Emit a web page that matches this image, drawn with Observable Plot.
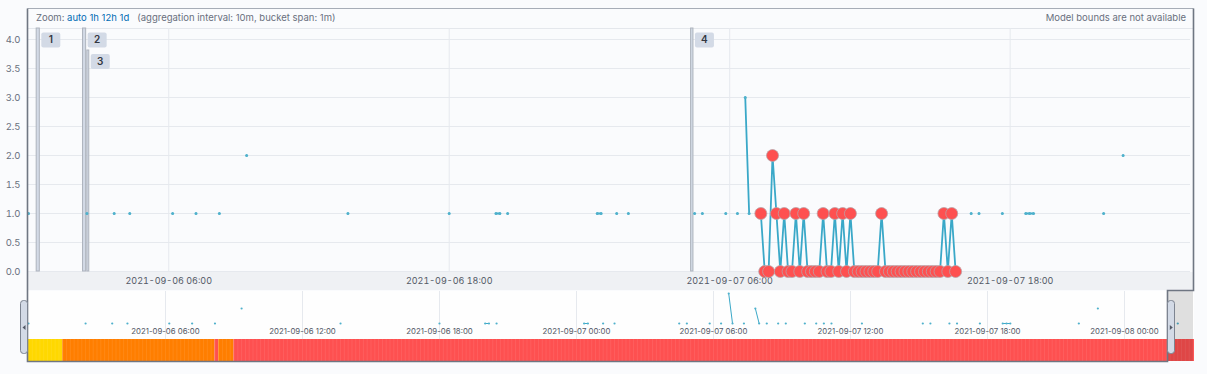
<!DOCTYPE html>
<html><head><meta charset="utf-8">
<script src="https://cdn.jsdelivr.net/npm/d3@7"></script>
<script src="https://cdn.jsdelivr.net/npm/@observablehq/plot@0.6"></script>
<style>
html,body{margin:0;padding:0;background:#fafbfd;}
#wrap{position:relative;width:1207px;height:374px;overflow:hidden;font-family:Inter,"Noto Sans",sans-serif;}
.abs{position:absolute;}
#hdr{left:36px;top:8px;height:20px;line-height:20px;font-size:9.5px;color:#69707d;white-space:pre;}
#hdr a{color:#006bb4;text-decoration:none;}
#hdrR{right:21px;top:8px;height:20px;line-height:20px;font-size:9.5px;color:#69707d;}
svg{display:block;}
</style></head>
<body><div id="wrap">
<div class="abs" style="left:28px;top:28px;width:1165px;height:1px;background:#e4e7ec"></div>
<div class="abs" style="left:28px;top:272px;width:1165px;height:18px;background:#eff1f4"></div>
<div class="abs" style="left:28px;top:291px;width:1166px;height:48px;background:#fefefe"></div>
<div id="hdr" class="abs">Zoom: <a>auto</a> <a>1h</a> <a>12h</a> <a>1d</a>   (aggregation interval: 10m, bucket span: 1m)</div>
<div id="hdrR" class="abs">Model bounds are not available</div>
<div id="main" class="abs" style="left:0;top:28px"></div>
<div id="ov" class="abs" style="left:28px;top:291px"></div>
<div id="sw" class="abs" style="left:28px;top:339px"></div>
<div class="abs" style="left:1168px;top:291px;width:25px;height:70px;background:rgba(0,0,0,0.12)"></div>
<svg class="abs" style="left:0;top:0;pointer-events:none" width="1207" height="374">
  <line x1="27.5" y1="8.5" x2="1193.5" y2="8.5" stroke="#a7adb7" stroke-width="1.2"/>
  <path d="M1193.5,8.5 V290.5 H1167.5 V361.5 H27.5 V8.5" fill="none" stroke="#6f7682" stroke-width="1.6"/>
  <rect x="20.5" y="300.5" width="7" height="53" rx="3" fill="#d3dae6" stroke="#7d8491"/>
  <path d="M25.5,325 L22.5,327.5 L25.5,330 Z" fill="#535966"/>
  <rect x="1167.5" y="300.5" width="7" height="53" rx="3" fill="#d3dae6" stroke="#7d8491"/>
  <path d="M1169.8,325 L1172.8,327.5 L1169.8,330 Z" fill="#535966"/>
</svg>
</div>
<script>
// ---------- data ----------
const valueTimes = [
 "2021-09-06T00:00","2021-09-06T02:30","2021-09-06T03:40","2021-09-06T04:20","2021-09-06T06:10",
 "2021-09-06T07:10","2021-09-06T08:10","2021-09-06T09:20","2021-09-06T13:40","2021-09-06T18:00",
 "2021-09-06T20:00","2021-09-06T20:10","2021-09-06T20:30",
 "2021-09-07T00:20","2021-09-07T00:30","2021-09-07T01:10","2021-09-07T01:40","2021-09-07T04:30",
 "2021-09-07T04:50","2021-09-07T05:50","2021-09-07T06:20","2021-09-07T06:40","2021-09-07T06:50",
 "2021-09-07T16:20","2021-09-07T16:40","2021-09-07T17:40","2021-09-07T18:40","2021-09-07T18:50",
 "2021-09-07T19:00","2021-09-07T22:00","2021-09-07T22:50","2021-09-08T02:20"];
const valueValues = [1,1,1,1,1, 1,1,2,1,1, 1,1,1, 1,1,1,1,1, 1,1,1,3,1, 1,1,1,1,1, 1,1,2,1];

const anomalyTimes = [
 "2021-09-07T07:20","2021-09-07T07:30","2021-09-07T07:40","2021-09-07T07:50","2021-09-07T08:00",
 "2021-09-07T08:10","2021-09-07T08:20","2021-09-07T08:30","2021-09-07T08:40","2021-09-07T08:50",
 "2021-09-07T09:00","2021-09-07T09:10","2021-09-07T09:20","2021-09-07T09:30","2021-09-07T09:40",
 "2021-09-07T09:50","2021-09-07T10:00","2021-09-07T10:10","2021-09-07T10:20","2021-09-07T10:30",
 "2021-09-07T10:40","2021-09-07T10:50","2021-09-07T11:00","2021-09-07T11:10","2021-09-07T11:20",
 "2021-09-07T11:30","2021-09-07T11:40","2021-09-07T11:50","2021-09-07T12:00","2021-09-07T12:10",
 "2021-09-07T12:20","2021-09-07T12:30","2021-09-07T12:40","2021-09-07T12:50","2021-09-07T13:00",
 "2021-09-07T13:10","2021-09-07T13:20","2021-09-07T13:30","2021-09-07T13:40","2021-09-07T13:50",
 "2021-09-07T14:00","2021-09-07T14:10","2021-09-07T14:20","2021-09-07T14:30","2021-09-07T14:40",
 "2021-09-07T14:50","2021-09-07T15:00","2021-09-07T15:10","2021-09-07T15:20","2021-09-07T15:30",
 "2021-09-07T15:40"];
const anomalyValues = [1,0,0,2,1, 0,1,0,0,1, 0,1,0,0,0, 0,1,0,0,1, 0,1,0,1,0, 0,0,0,0,0, 0,1,0,0,0, 0,0,0,0,0, 0,0,0,0,0, 0,0,1,0,1, 0];

const annStart = ["2021-09-06T00:21","2021-09-06T02:20","2021-09-06T02:31","2021-09-07T04:21"];
const annEnd   = ["2021-09-06T00:29","2021-09-06T02:28","2021-09-06T02:36","2021-09-07T04:27"];
const annLabel = ["1","2","3","4"];
const annRow   = [0,0,1,0];

const swimStart = ["2021-09-06T00:00","2021-09-06T01:30","2021-09-06T08:10","2021-09-06T08:20","2021-09-06T09:00"];
const swimEnd   = ["2021-09-06T01:30","2021-09-06T08:10","2021-09-06T08:20","2021-09-06T09:00","2021-09-08T03:10"];
const swimSeverity = ["minor","major","critical","major","critical"];

const yTicks = [0,0.5,1,1.5,2,2.5,3,3.5,4];
const mainTicks = ["2021-09-06T06:00","2021-09-06T18:00","2021-09-07T06:00","2021-09-07T18:00"];
const ovTicks = ["2021-09-06T06:00","2021-09-06T12:00","2021-09-06T18:00","2021-09-07T00:00",
                 "2021-09-07T06:00","2021-09-07T12:00","2021-09-07T18:00","2021-09-08T00:00"];

// ---------- helpers ----------
const T = s => new Date(s + ":00Z");
const fmt = d3.utcFormat("%Y-%m-%d %H:%M");
const mainDomain = [T("2021-09-06T00:00"), T("2021-09-08T01:43")];
const ovDomain = [T("2021-09-06T00:00"), T("2021-09-08T03:04")];

const normal = valueTimes.map((t,i)=>({t:T(t), v:valueValues[i], anomaly:false}));
const anomalies = anomalyTimes.map((t,i)=>({t:T(t), v:anomalyValues[i], anomaly:true}));
const all = normal.concat(anomalies).sort((a,b)=>a.t-b.t);
const STEP = 10*60*1000;
function withGaps(pts){
  const out=[];
  pts.forEach((p,i)=>{
    if(i>0 && p.t - pts[i-1].t > STEP*1.05) out.push({t:new Date((+p.t + +pts[i-1].t)/2), v:NaN});
    out.push(p);
  });
  return out;
}
const inMain = p => p.t >= mainDomain[0] && p.t <= mainDomain[1];
const mainPts = all.filter(inMain);
const mainLine = withGaps(mainPts);
const ovPts = all.filter(p => p.v > 0);
const ovLine = withGaps(ovPts);

const anns = annStart.map((s,i)=>({s:T(s), e:T(annEnd[i]), label:annLabel[i], row:annRow[i]}));
const swim = swimStart.map((s,i)=>({s:T(s), e:T(swimEnd[i]), sev:swimSeverity[i]}));

const labelBox = {draw(ctx){
  const w=9.5,h=7.5,r=2;
  ctx.moveTo(-w+r,-h); ctx.lineTo(w-r,-h); ctx.arcTo(w,-h,w,-h+r,r);
  ctx.lineTo(w,h-r); ctx.arcTo(w,h,w-r,h,r); ctx.lineTo(-w+r,h); ctx.arcTo(-w,h,-w,h-r,r);
  ctx.lineTo(-w,-h+r); ctx.arcTo(-w,-h,-w+r,-h,r); ctx.closePath();
}};

const LINE = "#3aa8c8", DOT = "#4fb1cc";
const GRID = "#e6e9ee";

// ---------- main chart ----------
const main = Plot.plot({
  width: 1194, height: 262,
  marginLeft: 28, marginRight: 4, marginTop: 0, marginBottom: 19,
  style: {fontFamily: "Inter, sans-serif", fontSize: "9px", background: "transparent", overflow: "visible"},
  x: {type: "utc", domain: mainDomain, label: null},
  y: {domain: [0, 4], insetTop: 11, label: null},
  marks: [
    Plot.gridY(yTicks, {stroke: GRID, strokeOpacity: 1, strokeWidth: 1.2}),
    Plot.gridX(mainTicks.map(T), {stroke: GRID, strokeOpacity: 1}),
    Plot.axisY(yTicks, {tickSize: 0, tickPadding: 8, tickFormat: d => d.toFixed(1), color: "#69707d", fontSize: 9.5, label: null}),
    Plot.axisX(mainTicks.map(T), {tickSize: 0, tickPadding: 6, tickFormat: fmt, color: "#535966", fontSize: 9, label: null}),
    Plot.rect(anns.filter(a=>a.row===0), {x1: "s", x2: "e", fill: "#d3dae6", stroke: "#adb3bd", strokeWidth: 1}),
    Plot.rect(anns.filter(a=>a.row===1), {x1: "s", x2: "e", insetTop: 22, fill: "#d3dae6", stroke: "#adb3bd", strokeWidth: 1}),
    Plot.line(mainLine, {x: "t", y: "v", stroke: LINE, strokeWidth: 1.8}),
    Plot.dot(mainPts.filter(p=>!p.anomaly), {x: "t", y: "v", r: 1.5, fill: DOT}),
    Plot.dot(anomalies, {x: "t", y: "v", r: 6, fill: "#fe5050", stroke: "#b8a3a8", strokeWidth: 0.8}),
    Plot.dot(anns.filter(a=>a.row===0), {x: "e", frameAnchor: "top", dx: 11, dy: 11.5, symbol: labelBox, r: 5, fill: "#d3dae6", stroke: "none"}),
    Plot.dot(anns.filter(a=>a.row===1), {x: "e", frameAnchor: "top", dx: 11, dy: 33, symbol: labelBox, r: 5, fill: "#d3dae6", stroke: "none"}),
    Plot.text(anns.filter(a=>a.row===0), {x: "e", text: "label", frameAnchor: "top", dx: 11, dy: 11.5, lineAnchor: "middle", fontSize: 10, fontWeight: 600, fill: "#343741"}),
    Plot.text(anns.filter(a=>a.row===1), {x: "e", text: "label", frameAnchor: "top", dx: 11, dy: 33, lineAnchor: "middle", fontSize: 10, fontWeight: 600, fill: "#343741"})
  ]
});
document.getElementById("main").appendChild(main);

// ---------- overview ----------
const ov = Plot.plot({
  width: 1166, height: 71,
  marginLeft: 0, marginRight: 0, marginTop: 2, marginBottom: 24,
  style: {fontFamily: "Inter, sans-serif", fontSize: "8px", background: "transparent", overflow: "visible"},
  x: {type: "utc", domain: ovDomain, axis: null},
  y: {domain: [0, 3], axis: null},
  marks: [
    Plot.ruleX(ovTicks.map(T), {stroke: GRID, insetTop: -2, insetBottom: -1}),
    Plot.line(ovLine, {x: "t", y: "v", stroke: LINE, strokeWidth: 1}),
    Plot.dot(ovPts, {x: "t", y: "v", r: 1.1, fill: DOT}),
    Plot.text(ovTicks.map(T), {x: d => d, text: d => fmt(d), frameAnchor: "bottom", dy: -7, lineAnchor: "middle", fontSize: 7.8, fill: "#535966"})
  ]
});
document.getElementById("ov").appendChild(ov);

// ---------- swimlane ----------
const sw = Plot.plot({
  width: 1166, height: 22,
  margin: 0,
  style: {background: "transparent"},
  x: {type: "utc", domain: ovDomain, axis: null},
  color: {domain: ["minor","major","critical"], range: ["#ffd800","#ff7e00","#fe5050"]},
  marks: [
    Plot.rect(swim, {x1: "s", x2: "e", fill: "sev"}),
    Plot.ruleX(d3.utcMinute.every(10).range(ovDomain[0], ovDomain[1]), {stroke: "white", strokeOpacity: 0.14, strokeWidth: 0.6})
  ]
});
document.getElementById("sw").appendChild(sw);
</script>
</body></html>
